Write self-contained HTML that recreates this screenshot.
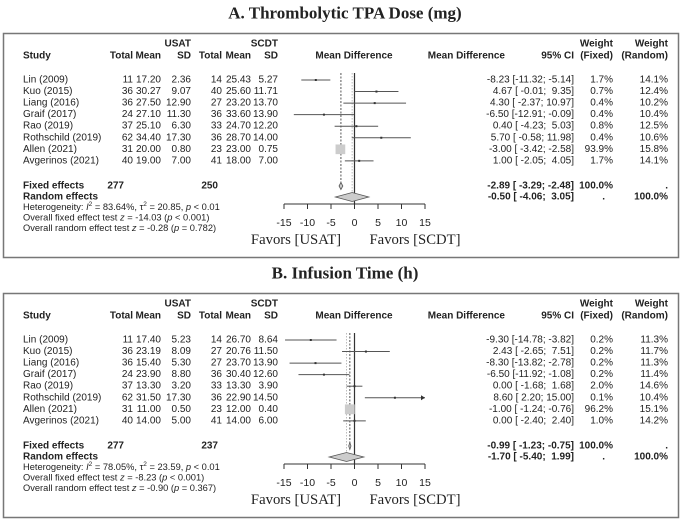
<!DOCTYPE html>
<html><head><meta charset="utf-8">
<style>
html,body{margin:0;padding:0;background:#fff;}
svg{display:block;}
text{font-family:"Liberation Sans",Arial,sans-serif;font-size:10px;fill:#222;}
.b{font-weight:bold;}
.serif{font-family:"Liberation Serif","Times New Roman",serif;}
</style></head>
<body>
<svg id="chart" width="685" height="522" viewBox="0 0 685 522" xmlns="http://www.w3.org/2000/svg"></svg>
<script>
// ---- Panel A data: Thrombolytic TPA Dose (mg)
const studiesA = ["Lin (2009)","Kuo (2015)","Liang (2016)","Graif (2017)","Rao (2019)","Rothschild (2019)","Allen (2021)","Avgerinos (2021)"];
const usatTotalA = [11,36,36,24,37,62,31,40];
const usatMeanA = ["17.20","30.27","27.50","27.10","25.10","34.40","20.00","19.00"];
const usatSdA = ["2.36","9.07","12.90","11.30","6.30","17.30","0.80","7.00"];
const scdtTotalA = [14,40,27,36,33,36,23,41];
const scdtMeanA = ["25.43","25.60","23.20","33.60","24.70","28.70","23.00","18.00"];
const scdtSdA = ["5.27","11.71","13.70","13.90","12.20","14.00","0.75","7.00"];
const mdA = [-8.23,4.67,4.30,-6.50,0.40,5.70,-3.00,1.00];
const loA = [-11.32,-0.01,-2.37,-12.91,-4.23,-0.58,-3.42,-2.05];
const hiA = [-5.14,9.35,10.97,-0.09,5.03,11.98,-2.58,4.05];
const wFixA = [1.7,0.7,0.4,0.4,0.8,0.4,93.9,1.7];
const wRandA = [14.1,12.4,10.2,10.4,12.5,10.6,15.8,14.1];
const fixedA = [-2.89,-3.29,-2.48];
const randomA = [-0.50,-4.06,3.05];
const totalsA = [277,250];
const statsA = ["83.64%","20.85","0.01","-14.03","0.001","-0.28","0.782"];

// ---- Panel B data: Infusion Time (h)
const studiesB = ["Lin (2009)","Kuo (2015)","Liang (2016)","Graif (2017)","Rao (2019)","Rothschild (2019)","Allen (2021)","Avgerinos (2021)"];
const usatTotalB = [11,36,36,24,37,62,31,40];
const usatMeanB = ["17.40","23.19","15.40","23.90","13.30","31.50","11.00","14.00"];
const usatSdB = ["5.23","8.09","5.30","8.80","3.20","17.30","0.50","5.00"];
const scdtTotalB = [14,27,27,36,33,36,23,41];
const scdtMeanB = ["26.70","20.76","23.70","30.40","13.30","22.90","12.00","14.00"];
const scdtSdB = ["8.64","11.50","13.90","12.60","3.90","14.50","0.40","6.00"];
const mdB = [-9.30,2.43,-8.30,-6.50,0.00,8.60,-1.00,0.00];
const loB = [-14.78,-2.65,-13.82,-11.92,-1.68,2.20,-1.24,-2.40];
const hiB = [-3.82,7.51,-2.78,-1.08,1.68,15.00,-0.76,2.40];
const wFixB = [0.2,0.2,0.2,0.2,2.0,0.1,96.2,1.0];
const wRandB = [11.3,11.7,11.3,11.4,14.6,10.4,15.1,14.2];
const fixedB = [-0.99,-1.23,-0.75];
const randomB = [-1.70,-5.40,1.99];
const totalsB = [277,237];
const statsB = ["78.05%","23.59","0.01","-8.23","0.001","-0.90","0.367"];

const axisTicks = [-15,-10,-5,0,5,10,15];

const NS = "http://www.w3.org/2000/svg";
const svg = document.getElementById("chart");
function el(tag, attrs, parent){
  const e = document.createElementNS(NS, tag);
  for (const k in attrs) e.setAttribute(k, attrs[k]);
  (parent||svg).appendChild(e);
  return e;
}
function txt(parent, x, y, s, anchor, cls, size){
  const t = el("text", {x:x, y:y, "text-anchor":anchor||"start", "dominant-baseline":"central"}, parent);
  if (cls) t.setAttribute("class", cls);
  if (size) t.setAttribute("style", "font-size:"+size+"px");
  t.textContent = s;
  return t;
}
const xScale = v => 354.5 + v * 4.7;
const f2 = v => v.toFixed(2);
function ciStr(lo, hi){
  const a = f2(lo), b = f2(hi);
  const pa = (a.length < 6 ? " " : "") + a;
  const pb = (b.length < 5 ? " " : "") + b;
  return "[" + pa + "; " + pb + "]";
}

function panel(off, title, d){
  const g = el("g", {});
  
  
  const t = txt(g, 345, 13+off, title, "middle", "serif b", 17);
  
  
  const box = el("rect", {x:3.5, y:33.5+off, width:675, height:224, fill:"none", stroke:"#777", "stroke-width":1.5}, g);
  
  

  const hg = el("g", {}, g);
  
  
  txt(hg, 191, 44+off, "USAT", "end", "b");
  txt(hg, 278, 44+off, "SCDT", "end", "b");
  txt(hg, 23, 56+off, "Study", "start", "b");
  txt(hg, 133, 56+off, "Total", "end", "b");
  txt(hg, 161, 56+off, "Mean", "end", "b");
  txt(hg, 191, 56+off, "SD", "end", "b");
  txt(hg, 222, 56+off, "Total", "end", "b");
  txt(hg, 251, 56+off, "Mean", "end", "b");
  txt(hg, 278, 56+off, "SD", "end", "b");
  txt(hg, 354, 56+off, "Mean Difference", "middle", "b");
  txt(hg, 505, 56+off, "Mean Difference", "end", "b");
  txt(hg, 574, 56+off, "95% CI", "end", "b");
  txt(hg, 613, 44+off, "Weight", "end", "b");
  txt(hg, 613, 56+off, "(Fixed)", "end", "b");
  txt(hg, 668, 44+off, "Weight", "end", "b");
  txt(hg, 668, 56+off, "(Random)", "end", "b");

  const rowY = i => 80 + off + i*11.55;
  const yFix = 186+off, yRand = 197+off, yAxis = 204+off;

  const zl = el("line", {x1:xScale(0), x2:xScale(0), y1:73+off, y2:yAxis, stroke:"#333", "stroke-width":1.2}, g);
  
  
  const rl = el("line", {x1:xScale(d.random[0]), x2:xScale(d.random[0]), y1:73+off, y2:yRand, stroke:"#bbb", "stroke-width":1, "stroke-dasharray":"1.5,1.5"}, g);
  
  
  const fl = el("line", {x1:xScale(d.fixed[0]), x2:xScale(d.fixed[0]), y1:73+off, y2:yFix, stroke:"#555", "stroke-width":1, "stroke-dasharray":"2,1.5"}, g);
  
  

  for (let i=0;i<d.studies.length;i++){
    const y = rowY(i);
    const rg = el("g", {}, g);
    
    
    txt(rg, 23, y, d.studies[i]);
    txt(rg, 133, y, String(d.ut[i]), "end");
    txt(rg, 161, y, d.um[i], "end");
    txt(rg, 191, y, d.us[i], "end");
    txt(rg, 222, y, String(d.st[i]), "end");
    txt(rg, 251, y, d.sm[i], "end");
    txt(rg, 278, y, d.ss[i], "end");
    const c = txt(rg, 574, y, f2(d.md[i]) + " " + ciStr(d.lo[i], d.hi[i]), "end");
    c.setAttribute("style", "white-space:pre");
    c.setAttribute("xml:space", "preserve");
    txt(rg, 613, y, d.wf[i].toFixed(1)+"%", "end");
    txt(rg, 668, y, d.wr[i].toFixed(1)+"%", "end");
    const lo = Math.max(d.lo[i], -15), hi = Math.min(d.hi[i], 15);
    const ci = el("line", {x1:xScale(lo), x2:xScale(hi), y1:y, y2:y, stroke:"#555", "stroke-width":1}, rg);
    
    
    if (d.hi[i] >= 15){
      const ar = el("path", {d:"M"+xScale(15)+","+y+" l-4,-2.5 l0,5 z", fill:"#333"}, rg);
      
      
    }
    const s = Math.max(2, Math.sqrt(d.wf[i]) * 1.0);
    const sq = el("rect", {x:xScale(d.md[i])-s/2, y:y-s/2, width:s, height:s, fill: s>4 ? "#ccc" : "#333"}, rg);
    
    
  }

  const sg = el("g", {}, g);
  
  
  txt(sg, 23, yFix, "Fixed effects", "start", "b");
  txt(sg, 124, yFix, String(d.totals[0]), "end", "b");
  txt(sg, 218, yFix, String(d.totals[1]), "end", "b");
  txt(sg, 23, yRand, "Random effects", "start", "b");
  const c1 = txt(sg, 574, yFix, f2(d.fixed[0]) + " " + ciStr(d.fixed[1], d.fixed[2]), "end", "b");
  c1.setAttribute("xml:space","preserve"); c1.setAttribute("style","white-space:pre");
  const c2 = txt(sg, 574, yRand, f2(d.random[0]) + " " + ciStr(d.random[1], d.random[2]), "end", "b");
  c2.setAttribute("xml:space","preserve"); c2.setAttribute("style","white-space:pre");
  txt(sg, 613, yFix, "100.0%", "end", "b");
  txt(sg, 668, yFix, ".", "end", "b");
  txt(sg, 605, yRand, ".", "end", "b");
  txt(sg, 668, yRand, "100.0%", "end", "b");

  const fd = el("path", {d:"M"+xScale(d.fixed[1])+","+yFix+" L"+xScale(d.fixed[0])+","+(yFix-3.5)+" L"+xScale(d.fixed[2])+","+yFix+" L"+xScale(d.fixed[0])+","+(yFix+3.5)+" Z", fill:"#ccc", stroke:"#555", "stroke-width":0.8}, g);
  
  
  const rd = el("path", {d:"M"+xScale(d.random[1])+","+yRand+" L"+xScale(d.random[0])+","+(yRand-4.5)+" L"+xScale(d.random[2])+","+yRand+" L"+xScale(d.random[0])+","+(yRand+4.5)+" Z", fill:"#ccc", stroke:"#555", "stroke-width":0.8}, g);
  
  

  const st = d.stats;
  const h = el("text", {x:23, y:207+off, "dominant-baseline":"central", style:"font-size:9.3px"}, g);
  
  
  h.innerHTML = 'Heterogeneity: <tspan font-style="italic">I</tspan><tspan dy="-3" style="font-size:6.5px">2</tspan><tspan dy="3"> = '+st[0]+', τ</tspan><tspan dy="-3" style="font-size:6.5px">2</tspan><tspan dy="3"> = '+st[1]+', </tspan><tspan font-style="italic">p</tspan> &lt; '+st[2];
  const f = el("text", {x:23, y:217.5+off, "dominant-baseline":"central", style:"font-size:9.3px"}, g);
  
  
  f.innerHTML = 'Overall fixed effect test <tspan font-style="italic">z</tspan> = '+st[3]+' (<tspan font-style="italic">p</tspan> &lt; '+st[4]+')';
  const r = el("text", {x:23, y:228+off, "dominant-baseline":"central", style:"font-size:9.3px"}, g);
  
  
  r.innerHTML = 'Overall random effect test <tspan font-style="italic">z</tspan> = '+st[5]+' (<tspan font-style="italic">p</tspan> = '+st[6]+')';

  const ag = el("g", {}, g);
  
  
  el("line", {x1:xScale(axisTicks[0]), x2:xScale(axisTicks[axisTicks.length-1]), y1:yAxis, y2:yAxis, stroke:"#333", "stroke-width":1}, ag);
  for (const tk of axisTicks){
    el("line", {x1:xScale(tk), x2:xScale(tk), y1:yAxis, y2:yAxis+5, stroke:"#333", "stroke-width":1}, ag);
    txt(ag, xScale(tk), 223+off, String(tk), "middle", null, 10.5);
  }
  const fu = txt(g, 296, 240+off, "Favors [USAT]", "middle", "serif", 14.7);
  
  
  const fs = txt(g, 415, 240+off, "Favors [SCDT]", "middle", "serif", 14.7);
  
  
}

panel(0, "A. Thrombolytic TPA Dose (mg)", {name:"panel-a-tpa-dose", studies:studiesA, ut:usatTotalA, um:usatMeanA, us:usatSdA, st:scdtTotalA, sm:scdtMeanA, ss:scdtSdA, md:mdA, lo:loA, hi:hiA, wf:wFixA, wr:wRandA, fixed:fixedA, random:randomA, totals:totalsA, stats:statsA});
panel(260, "B. Infusion Time (h)", {name:"panel-b-infusion-time", studies:studiesB, ut:usatTotalB, um:usatMeanB, us:usatSdB, st:scdtTotalB, sm:scdtMeanB, ss:scdtSdB, md:mdB, lo:loB, hi:hiB, wf:wFixB, wr:wRandB, fixed:fixedB, random:randomB, totals:totalsB, stats:statsB});
</script>
</body></html>
